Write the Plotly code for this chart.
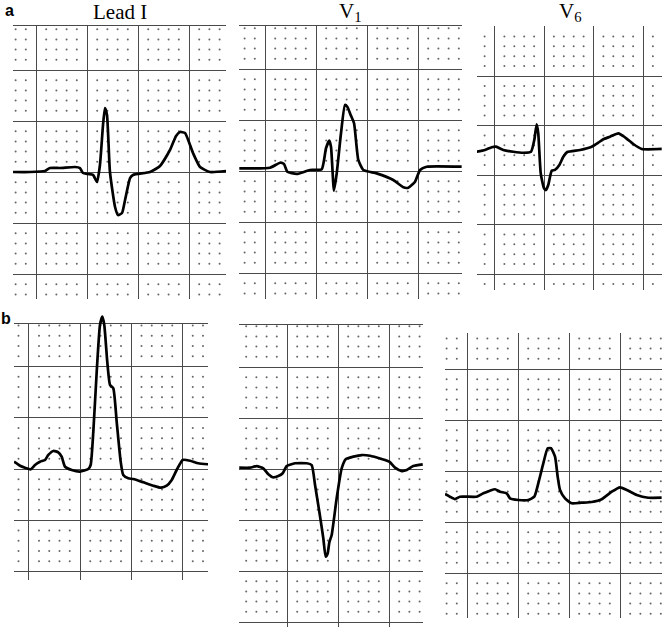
import numpy as np
import plotly.graph_objects as go

# ECG tracings, in small boxes (mm):
# t = time measured from a major grid line, v = amplitude from a major grid line

lead1_a_t = [-2.25, -0.59, 0.88, 1.37, 2.35, 3.82, 4.31, 4.61, 5.10, 5.59, 5.98, 6.27, 6.57, 6.76,
             6.96, 7.25, 7.75, 8.04, 8.43, 8.73, 9.22, 9.51, 11.18, 12.16, 13.14, 13.73, 14.12,
             14.61, 15.39, 16.08, 17.06, 18.63]
lead1_a_v = [0.0, 0.0, 0.10, 0.39, 0.39, 0.49, 0.39, -0.10, -0.20, -0.29, -0.98, 0.69, 4.60, 6.27,
             5.59, 0.0, -3.43, -4.22, -4.02, -2.75, -0.59, -0.29, 0.0, 0.59, 2.16, 3.53, 3.92,
             3.82, 1.86, 0.49, 0.0, 0.10]

v1_a_t = [-7.52, -4.51, -3.53, -3.14, -2.81, -1.89, -0.59, 0.56, 0.98, 1.30, 1.47, 1.76, 2.03,
          2.45, 2.84, 3.07, 3.40, 3.73, 4.15, 4.64, 5.95, 7.58, 8.56, 9.05, 9.71, 10.20, 10.85, 14.28]
v1_a_v = [0.26, 0.32, 0.81, 0.69, -0.07, -0.29, 0.10, 0.17, 2.23, 2.97, 2.38, -1.93, -0.23,
          3.70, 6.47, 6.30, 5.49, 4.68, 1.08, 0.10, -0.23, -0.88, -1.60, -1.64, -1.05, 0.10, 0.42, 0.42]

v6_a_t = [-6.80, -5.96, -5.28, -4.85, -4.11, -3.10, -2.09, -1.31, -0.98, -0.74, -0.58, -0.33, 0.0,
          0.20, 0.43, 0.78, 1.11, 1.55, 1.95, 2.35, 3.64, 4.82, 5.48, 5.99, 6.67, 7.51, 8.18,
          9.02, 9.87, 11.89]
v6_a_v = [2.35, 2.53, 2.80, 2.86, 2.53, 2.35, 2.25, 2.35, 3.54, 5.12, 4.21, 0.17, -1.34,
          -1.52, -1.01, 0.43, 0.51, 1.01, 1.85, 2.32, 2.53, 2.86, 3.26, 3.61, 3.87, 4.21, 3.81,
          3.13, 2.63, 2.63]

lead1_b_t = [-6.44, -5.85, -5.37, -4.81, -4.39, -3.90, -3.41, -3.09, -2.60, -2.12, -1.79, -1.46,
             -0.81, 0.0, 0.81, 1.04, 1.30, 1.63, 1.95, 2.18, 2.37, 2.66, 2.93, 3.25, 3.58, 3.97,
             4.22, 4.71, 5.20, 6.18, 7.15, 7.90, 8.46, 8.95, 9.43, 10.02, 10.73, 11.54, 12.52]
lead1_b_v = [0.71, 0.32, 0.13, -0.03, 0.39, 0.71, 0.88, 1.37, 1.76, 1.63, 1.20, 0.22,
             -0.10, -0.26, 0.0, 0.39, 3.64, 9.49, 14.05, 14.86, 14.05, 10.47, 8.20, 7.87, 4.61, 0.71,
             -0.59, -0.91, -0.98, -1.30, -1.63, -1.82, -1.63, -1.07, -0.10, 0.88, 0.81, 0.56, 0.46]

v1_b_t = [-9.68, -8.63, -7.97, -7.32, -6.83, -6.40, -5.85, -5.42, -5.03, -4.22, -3.07, -2.58,
          -2.25, -1.83, -1.44, -1.21, -1.01, -0.85, -0.62, -0.13, 0.36, 0.78, 1.50, 2.32, 3.14,
          4.28, 5.03, 5.59, 6.25, 6.74, 7.38, 8.31]
v1_b_v = [0.13, 0.13, 0.29, 0.07, -0.52, -0.81, -0.69, -0.42, 0.29, 0.56, 0.56, 0.39,
          -1.57, -4.19, -6.79, -8.60, -8.26, -7.19, -6.47, -2.87, 0.07, 0.98, 1.21, 1.37, 1.30,
          0.98, 0.72, 0.13, -0.20, -0.10, 0.29, 0.46]

v6_b_t = [-7.16, -6.67, -6.18, -5.69, -4.05, -3.40, -2.75, -2.25, -1.76, -1.11, -0.78, 0.03,
          1.01, 1.60, 1.99, 2.48, 2.91, 3.24, 3.63, 3.89, 4.12, 4.61, 5.26, 6.25, 7.23, 8.21,
          9.19, 10.00, 10.66, 11.64, 12.77, 14.08]
v6_b_v = [2.75, 2.48, 2.25, 2.48, 2.48, 2.81, 3.07, 3.21, 2.97, 2.81, 2.32, 2.16,
          2.16, 2.48, 3.79, 5.75, 7.23, 7.23, 6.40, 4.44, 3.14, 2.32, 1.83, 1.89, 1.96, 2.23,
          2.97, 3.40, 3.14, 2.65, 2.38, 2.38]

lead_titles = ["Lead I", "V<sub>1</sub>", "V<sub>6</sub>"]
row_letters = ["a", "b"]

W, H = 662, 627
PAD = 14  # extra px above each panel so tall waves can poke over the top border

# panel placement in pixels: (left, right, top, bottom), grid origin (gx, gy), px per mm, top border
panels = [
    (lead1_a_t, lead1_a_v, (13, 226, 26, 299), (36, 172), 10.2, True),
    (v1_a_t, v1_a_v, (239, 462, 26, 299), (316, 171), 10.2, True),
    (v6_a_t, v6_a_v, (477, 662, 26, 290), (544, 175), 9.9, False),
    (lead1_b_t, lead1_b_v, (14, 208, 324, 580), (80, 469), 10.25, True),
    (v1_b_t, v1_b_v, (239, 423, 325, 627), (338, 469), 10.2, True),
    (v6_b_t, v6_b_v, (445, 662, 333, 618), (518, 522), 10.2, False),
]

fig = go.Figure()
layout = {}
hidden = dict(showgrid=False, zeroline=False, showticklabels=False, ticks="", showline=False)

for i, (t, v, box, origin, s, top_border) in enumerate(panels):
    left, right, top, bottom = box
    gx, gy = origin
    xr = [(left - gx) / s, (right - gx) / s]
    yr = [(gy - bottom) / s, (gy - top) / s]
    n = str(i + 1) if i else ""
    m = str(i + 7)

    # 1 mm dots between the major lines
    xs = [k for k in range(int(np.ceil(xr[0])), int(np.floor(xr[1])) + 1) if k % 5]
    ys = [k for k in range(int(np.ceil(yr[0])), int(np.floor(yr[1])) + 1) if k % 5]
    dx, dy = np.meshgrid(xs, ys)
    fig.add_trace(go.Scatter(x=dx.ravel(), y=dy.ravel(), mode="markers",
                             marker=dict(size=2, color="#666666"),
                             xaxis="x" + n, yaxis="y" + n, hoverinfo="skip"))

    layout["xaxis" + n] = dict(domain=[left / W, right / W], range=xr, anchor="y" + n,
                               tick0=0, dtick=5, showgrid=True, gridcolor="#4a4a4a", gridwidth=1,
                               zeroline=False, showticklabels=False, ticks="",
                               showline=top_border, side="top", linecolor="#4a4a4a", linewidth=1.2)
    layout["yaxis" + n] = dict(domain=[1 - bottom / H, 1 - top / H], range=yr, anchor="x" + n,
                               tick0=0, dtick=5, showgrid=True, gridcolor="#4a4a4a", gridwidth=1,
                               zeroline=False, showticklabels=False, ticks="")

    # the tracing sits on its own axes with the same scale, a little taller than the paper
    fig.add_trace(go.Scatter(x=t, y=v, mode="lines",
                             line=dict(color="black", width=2.7, shape="spline", smoothing=0.5),
                             xaxis="x" + m, yaxis="y" + m))
    layout["xaxis" + m] = dict(domain=[left / W, right / W], range=xr, anchor="y" + m, **hidden)
    layout["yaxis" + m] = dict(domain=[1 - bottom / H, min(1, 1 - (top - PAD) / H)],
                               range=[yr[0], yr[1] + PAD / s], anchor="x" + m, **hidden)

annotations = []
for txt, x in zip(lead_titles, [120, 350, 570]):
    annotations.append(dict(text=txt, x=x / W, y=1 - 12 / H, xref="paper", yref="paper",
                            showarrow=False, xanchor="center", yanchor="middle",
                            font=dict(family="Liberation Serif", size=21, color="black")))
for txt, (x, y) in zip(row_letters, [(9, 10), (6, 318)]):
    annotations.append(dict(text="<b>%s</b>" % txt, x=x / W, y=1 - y / H, xref="paper", yref="paper",
                            showarrow=False, xanchor="center", yanchor="middle",
                            font=dict(family="Liberation Sans", size=16, color="black")))

fig.update_layout(width=W, height=H, margin=dict(l=0, r=0, t=0, b=0),
                  paper_bgcolor="white", plot_bgcolor="rgba(0,0,0,0)", showlegend=False,
                  annotations=annotations, **layout)

fig.write_html("out.html", config={"displayModeBar": False},
               post_script="document.body.style.margin='0';")
